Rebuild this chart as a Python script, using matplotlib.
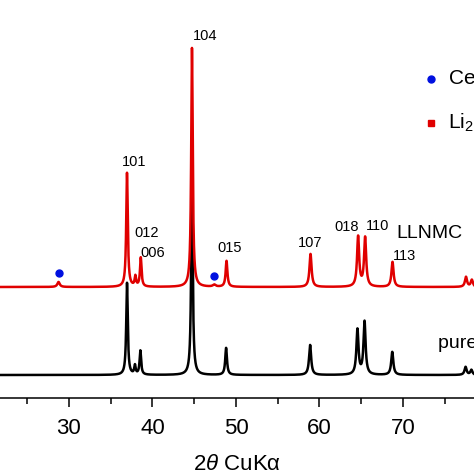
import numpy as np
import matplotlib
matplotlib.use("Agg")
import matplotlib.pyplot as plt

plt.rcParams["font.family"] = ["Liberation Sans", "DejaVu Sans"]
plt.rcParams["mathtext.fontset"] = "custom"
plt.rcParams["mathtext.rm"] = "Liberation Sans"
plt.rcParams["mathtext.it"] = "Liberation Sans:italic"

# peak lists (2theta, height above baseline)
red_pos = [28.75, 36.95, 37.95, 38.6, 44.73, 47.4, 48.87, 58.93, 64.63, 65.47, 68.75, 77.55, 78.25]
red_h = [5, 114, 10, 29, 239, 2, 26, 33, 50, 49, 25, 10, 7]
red_w = [0.35, 0.22, 0.2, 0.22, 0.22, 0.4, 0.25, 0.3, 0.3, 0.3, 0.3, 0.3, 0.3]
red_base = 111

blk_pos = [36.95, 37.9, 38.55, 44.73, 48.82, 58.88, 64.55, 65.4, 68.72, 77.5, 78.2]
blk_h = [92, 9, 24, 200, 27, 30, 45, 53, 23, 8, 5]
blk_w = [0.22, 0.2, 0.22, 0.22, 0.25, 0.3, 0.3, 0.3, 0.3, 0.3, 0.3]
blk_base = 23

hkl = ["101", "104", "012", "006", "015", "107", "018", "110", "113"]
hkl_xy = [(37.79, 236), (46.29, 362), (39.31, 165), (40.06, 145), (49.28, 150),
          (58.87, 155), (63.26, 171), (67.01, 172), (70.24, 142)]

ceo2_x = [28.81, 47.37]
ceo2_y = [125, 122]

tt = np.arange(20, 80, 0.01)


def pattern(pos, h, w, base):
    y = np.full_like(tt, base, dtype=float)
    for p, a, g in zip(pos, h, w):
        y += a / (1 + ((tt - p) / (g / 2)) ** 2)
    return y


fig = plt.figure(figsize=(4.74, 4.74), dpi=100)
ax = fig.add_axes([0, 1 - 398 / 474, 1, 398 / 474])

ax.plot(tt, pattern(blk_pos, blk_h, blk_w, blk_base), color="black", lw=1.8)
ax.plot(tt, pattern(red_pos, red_h, red_w, red_base), color="#e00000", lw=1.8)

ax.plot(ceo2_x, ceo2_y, "o", color="#0010e0", ms=5, ls="none")

for s, (x, y) in zip(hkl, hkl_xy):
    ax.text(x, y, s, ha="center", va="center", fontsize=10.5)

ax.text(69.25, 165, "LLNMC", ha="left", va="center", fontsize=14)
ax.text(74.2, 55, "pure LNMC", ha="left", va="center", fontsize=14)

# legend (cut by the figure edge, as in the source)
ax.plot([73.36], [319], "o", color="#0010e0", ms=5)
ax.plot([73.36], [275], "s", color="#e00000", ms=4.5)
ax.text(75.36, 319, "CeO$_2$", ha="left", va="center", fontsize=15)
ax.text(75.36, 275, "Li$_2$CeO$_3$", ha="left", va="center", fontsize=15)

ax.set_xlim(21.74, 78.51)
ax.set_ylim(0, 398)
ax.set_xticks([30, 40, 50, 60, 70])
ax.set_xticks([25, 35, 45, 55, 65, 75], minor=True)
ax.set_yticks([])
for s in ["left", "right", "top"]:
    ax.spines[s].set_visible(False)
ax.spines["bottom"].set_linewidth(1.1)
ax.tick_params(axis="x", which="major", direction="out", length=6.5, width=1.1, labelsize=16, pad=8)
ax.tick_params(axis="x", which="minor", direction="out", length=4, width=1.1)
ax.set_xlabel("2$\\theta$ CuKα", fontsize=16, labelpad=11)
ax.patch.set_alpha(0)

fig.text(1 / 474, 1 - 9 / 474, "(c)", ha="right", va="center", fontsize=14, fontweight="bold")

fig.savefig("out.png", dpi=100)
